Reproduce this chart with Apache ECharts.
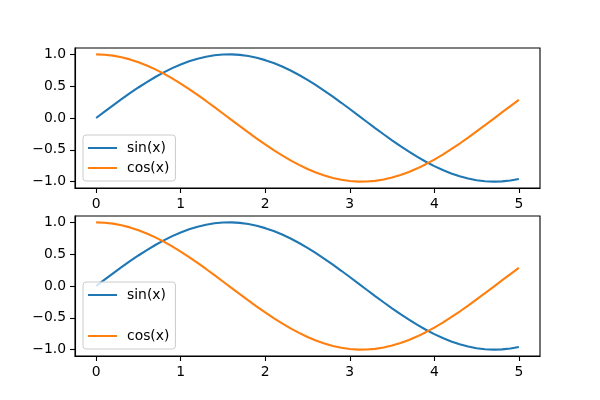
<!DOCTYPE html>
<html>
<head>
<meta charset="utf-8">
<script src="https://cdn.jsdelivr.net/npm/echarts@6/dist/echarts.min.js"></script>
<style>
html,body{margin:0;padding:0;background:#fff;}
#chart{width:600px;height:400px;}
</style>
</head>
<body>
<div id="chart"></div>
<script>
const xValues = [0,0.1,0.2,0.3,0.4,0.5,0.6,0.7,0.8,0.9,1.0,1.1,1.2,1.3,1.4,1.5,1.6,1.7,1.8,1.9,2.0,2.1,2.2,2.3,2.4,2.5,2.6,2.7,2.8,2.9,3.0,3.1,3.2,3.3,3.4,3.5,3.6,3.7,3.8,3.9,4.0,4.1,4.2,4.3,4.4,4.5,4.6,4.7,4.8,4.9,5.0];
const sinValues = [0,0.0998,0.1987,0.2955,0.3894,0.4794,0.5646,0.6442,0.7174,0.7833,0.8415,0.8912,0.9320,0.9636,0.9854,0.9975,0.9996,0.9917,0.9738,0.9463,0.9093,0.8632,0.8085,0.7457,0.6755,0.5985,0.5155,0.4274,0.3350,0.2392,0.1411,0.0416,-0.0584,-0.1577,-0.2555,-0.3508,-0.4425,-0.5298,-0.6119,-0.6878,-0.7568,-0.8183,-0.8716,-0.9162,-0.9516,-0.9775,-0.9937,-0.9999,-0.9962,-0.9825,-0.9589];
const cosValues = [1,0.9950,0.9801,0.9553,0.9211,0.8776,0.8253,0.7648,0.6967,0.6216,0.5403,0.4536,0.3624,0.2675,0.1700,0.0707,-0.0292,-0.1288,-0.2272,-0.3233,-0.4161,-0.5048,-0.5885,-0.6663,-0.7374,-0.8011,-0.8569,-0.9041,-0.9422,-0.9710,-0.9900,-0.9991,-0.9983,-0.9875,-0.9668,-0.9365,-0.8968,-0.8481,-0.7910,-0.7259,-0.6536,-0.5748,-0.4903,-0.4008,-0.3073,-0.2108,-0.1122,-0.0124,0.0875,0.1865,0.2837];
const xTicks = [0,1,2,3,4,5];
const yTicks = [-1,-0.5,0,0.5,1];
const seriesNames = ['sin(x)','cos(x)'];

const FONT = 'DejaVu Sans';
const FS = 13.9;
const pairs = (ys) => xValues.map((x,i)=>[x, ys[i]]);
const fmtY = v => (v < 0 ? '\u2212' : '') + Math.abs(v).toFixed(1);

function grid(top){
  return {left:75, top:top, width:465, height:140, show:true, borderColor:'#000', borderWidth:1.1, backgroundColor:'transparent'};
}
function xAxis(i){
  return {type:'value', gridIndex:i, min:-0.25, max:5.25, position:'bottom',
    splitLine:{show:false}, axisLine:{show:true, onZero:false, lineStyle:{color:'#000', width:1.1}},
    axisTick:{show:true, length:5, inside:false, customValues:xTicks, lineStyle:{color:'#000', width:1.1}},
    axisLabel:{customValues:xTicks, margin:9, color:'#000', fontFamily:FONT, fontSize:FS, formatter: v=>String(v)}};
}
function yAxis(i){
  return {type:'value', gridIndex:i, min:-1.1, max:1.1, position:'left',
    splitLine:{show:false}, axisLine:{show:true, onZero:false, lineStyle:{color:'#000', width:1.1}},
    axisTick:{show:true, length:5, inside:false, customValues:yTicks, lineStyle:{color:'#000', width:1.1}},
    axisLabel:{customValues:yTicks, margin:9, color:'#000', fontFamily:FONT, fontSize:FS, formatter: fmtY}};
}
function legend(top, gap){
  return {data:seriesNames, orient:'vertical', left:83, top:top, itemGap:gap,
    icon:'rect', itemWidth:29, itemHeight:2,
    padding:[6,6,6,5], borderColor:'#cccccc', borderWidth:1, borderRadius:3,
    backgroundColor:'rgba(255,255,255,0.8)', z:10,
    textStyle:{color:'#000', fontFamily:FONT, fontSize:FS, lineHeight:14, padding:[0,0,0,5]}};
}
const colors = ['#1f77b4','#ff7f0e'];
const values = [sinValues, cosValues];
const series = [];
[0,1].forEach(g=>{
  seriesNames.forEach((n,k)=>{
    series.push({name:n, type:'line', xAxisIndex:g, yAxisIndex:g, data:pairs(values[k]),
      showSymbol:false, symbol:'none', color:colors[k], lineStyle:{width:2.1, color:colors[k]}, z:2});
  });
});

const chart = echarts.init(document.getElementById('chart'), null, {renderer:'canvas'});
chart.setOption({
  animation:false,
  backgroundColor:'#fff',
  grid:[grid(48), grid(216)],
  xAxis:[xAxis(0), xAxis(1)],
  yAxis:[yAxis(0), yAxis(1)],
  legend:[legend(135,6), legend(282,27)],
  series:series
});
</script>
</body>
</html>
